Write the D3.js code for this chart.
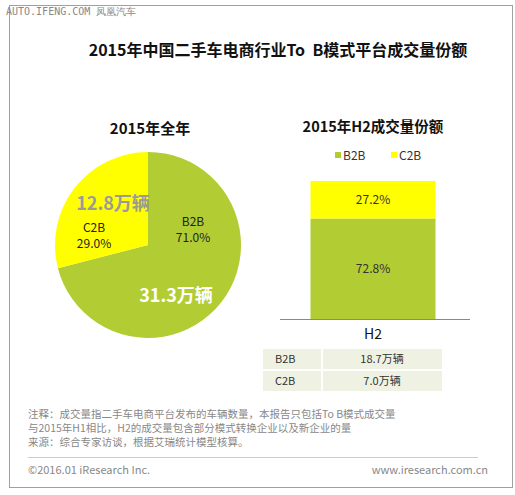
<!DOCTYPE html>
<html>
<head>
<meta charset="utf-8">
<script src="https://cdn.jsdelivr.net/npm/d3@7"></script>
<style>
  body { margin: 0; background: #fff; }
  text { font-family: "Noto Sans CJK SC", "Noto Sans", sans-serif; }
</style>
</head>
<body>
<div id="chart"></div>
<script>
// 2015 full year
const pieNames = ["B2B", "C2B"];
const pieShares = [71.0, 29.0];
const pieVolumes = ["31.3万辆", "12.8万辆"];

// 2015 H2
const barCategories = ["H2"];
const barSeries = ["B2B", "C2B"];
const barShares = [72.8, 27.2];
const tableValues = ["18.7万辆", "7.0万辆"];

const notes = [
  "注释：成交量指二手车电商平台发布的车辆数量，本报告只包括To B模式成交量",
  "与2015年H1相比，H2的成交量包含部分模式转换企业以及新企业的量",
  "来源：综合专家访谈，根据艾瑞统计模型核算。"
];

const colors = { B2B: "#b2cd33", C2B: "#ffff00" };

const W = 515, H = 495;
const svg = d3.select("#chart").append("svg").attr("width", W).attr("height", H);

// frame
svg.append("rect")
  .attr("x", 9.5).attr("y", 5.5).attr("width", 503).attr("height", 482)
  .attr("fill", "none").attr("stroke", "#a0a0a0");

svg.append("text")
  .attr("x", 6).attr("y", 15)
  .style("font-family", "'DejaVu Sans Mono', monospace")
  .style("font-size", "10px").attr("fill", "#888")
  .text("AUTO.IFENG.COM 凤凰汽车");

svg.append("text")
  .attr("x", 278).attr("y", 56).attr("text-anchor", "middle")
  .style("white-space", "pre")
  .style("font-size", "16px").style("font-weight", "bold").attr("fill", "#111")
  .text("2015年中国二手车电商行业To  B模式平台成交量份额");

// ---- pie ----
svg.append("text")
  .attr("x", 150).attr("y", 134).attr("text-anchor", "middle")
  .style("font-size", "15px").style("font-weight", "bold").attr("fill", "#111")
  .text("2015年全年");

const pieData = pieNames.map((n, i) => ({ name: n, value: pieShares[i], vol: pieVolumes[i] }));
const pie = d3.pie().sort(null).value((d) => d.value);
const r = 93;
const arc = d3.arc().innerRadius(0).outerRadius(r);
const pg = svg.append("g").attr("transform", "translate(148,245)");
const arcs = pie(pieData);

pg.selectAll("path").data(arcs).enter().append("path")
  .attr("d", arc)
  .attr("fill", (d) => colors[d.data.name]);

// label anchors relative to the pie centre
const labelPos = { B2B: [45, -19], C2B: [-54, -13] };
arcs.forEach((d) => {
  const [lx, ly] = labelPos[d.data.name];
  const t = pg.append("text").attr("text-anchor", "middle")
    .style("font-size", "12px").attr("fill", "#222");
  t.append("tspan").attr("x", lx).attr("y", ly).text(d.data.name);
  t.append("tspan").attr("x", lx).attr("y", ly + 16).text(d.data.value.toFixed(1) + "%");
});

pg.append("text")
  .attr("x", -35).attr("y", -35).attr("text-anchor", "middle")
  .style("font-size", "18px").style("font-weight", "bold").attr("fill", "#9a9a9a")
  .text(pieData[1].vol);
pg.append("text")
  .attr("x", 28).attr("y", 57).attr("text-anchor", "middle")
  .style("font-size", "18px").style("font-weight", "bold").attr("fill", "#fff")
  .text(pieData[0].vol);

// ---- stacked bar ----
svg.append("text")
  .attr("x", 373).attr("y", 132).attr("text-anchor", "middle")
  .style("font-size", "14.5px").style("font-weight", "bold").attr("fill", "#111")
  .text("2015年H2成交量份额");

const legend = svg.append("g");
[335, 391].forEach((lx, i) => {
  legend.append("rect").attr("x", lx).attr("y", 152).attr("width", 6).attr("height", 6)
    .attr("fill", colors[barSeries[i]]);
  legend.append("text").attr("x", lx + 8).attr("y", 159.5)
    .style("font-size", "12px").attr("fill", "#333").text(barSeries[i]);
});

const x = d3.scaleBand().domain(barCategories).range([283, 463]).paddingInner(0).paddingOuter(0.22);
const y = d3.scaleLinear().domain([0, 100]).range([319, 181]);

const stackRow = {};
barSeries.forEach((s, i) => { stackRow[s] = barShares[i]; });
const stacked = d3.stack().keys(barSeries)([stackRow]);

const bars = svg.append("g");
stacked.forEach((layer) => {
  const d = layer[0];
  bars.append("rect")
    .attr("x", x(barCategories[0])).attr("width", x.bandwidth())
    .attr("y", y(d[1])).attr("height", y(d[0]) - y(d[1]))
    .attr("fill", colors[layer.key]);
  bars.append("text")
    .attr("x", x(barCategories[0]) + x.bandwidth() / 2)
    .attr("y", (y(d[0]) + y(d[1])) / 2 + 4)
    .attr("text-anchor", "middle")
    .style("font-size", "12px").attr("fill", "#333")
    .text(stackRow[layer.key].toFixed(1) + "%");
});

const xAxis = svg.append("g").attr("transform", "translate(0,319)")
  .call(d3.axisBottom(x).tickSize(0).tickPadding(10));
xAxis.select(".domain").attr("stroke", "#888").attr("d", "M280,0.5H470");
xAxis.selectAll("text")
  .style("font-size", "14px").style("font-family", "'Noto Sans CJK SC', sans-serif").attr("fill", "#111");

// data table
const table = svg.append("g");
barSeries.forEach((s, i) => {
  const ty = 349 + i * 22;
  table.append("rect").attr("x", 263).attr("y", ty).attr("width", 58).attr("height", 20).attr("fill", "#eff2e3");
  table.append("rect").attr("x", 323).attr("y", ty).attr("width", 119).attr("height", 20).attr("fill", "#eff2e3");
  table.append("text").attr("x", 275).attr("y", ty + 14)
    .style("font-size", "11px").attr("fill", "#333").text(s);
  table.append("text").attr("x", 382).attr("y", ty + 14).attr("text-anchor", "middle")
    .style("font-size", "11px").attr("fill", "#333").text(tableValues[i]);
});

// ---- footer ----
notes.forEach((n, i) => {
  svg.append("text").attr("x", 28).attr("y", 418 + i * 14)
    .style("font-size", "10.5px").attr("fill", "#888").text(n);
});
svg.append("line").attr("x1", 28).attr("x2", 478).attr("y1", 457.5).attr("y2", 457.5)
  .attr("stroke", "#ccc");
svg.append("text").attr("x", 28).attr("y", 474)
  .style("font-size", "11px").attr("fill", "#888").text("©2016.01 iResearch Inc.");
svg.append("text").attr("x", 488).attr("y", 474).attr("text-anchor", "end")
  .style("font-size", "11px").attr("fill", "#888").text("www.iresearch.com.cn");
</script>
</body>
</html>
